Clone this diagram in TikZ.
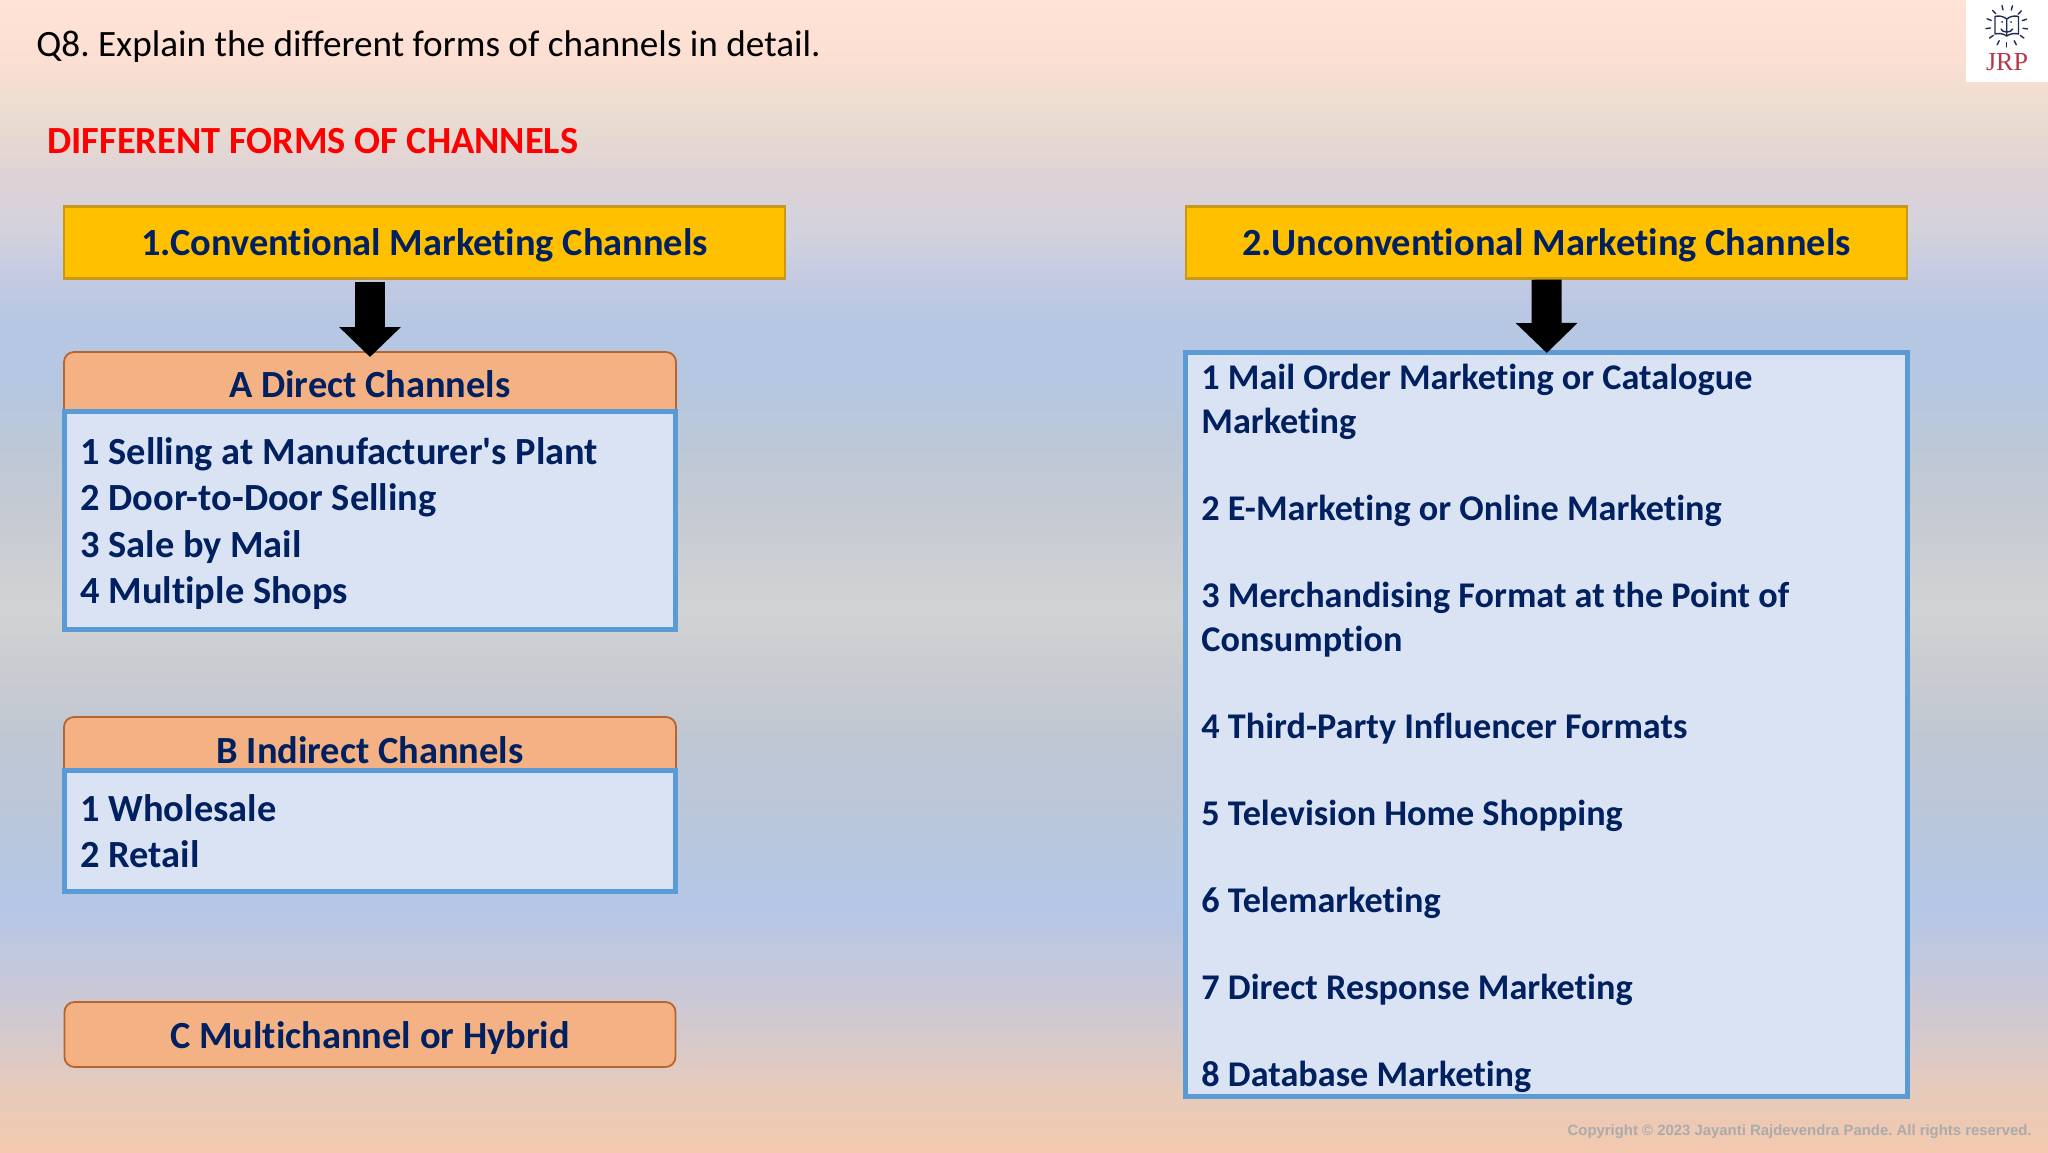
\documentclass[tikz,border=0pt]{standalone}
\usepackage{fontspec}
\setmainfont{Carlito}[Ligatures={TeXOff,NoCommon}]
\newfontfamily\arialfont{Liberation Sans}
\newfontfamily\timesfont{Liberation Serif}
\usetikzlibrary{arrows.meta,calc}
\frenchspacing
\definecolor{navy}{HTML}{002060}
\definecolor{goldfill}{HTML}{FFC000}
\definecolor{goldline}{HTML}{C8981A}
\definecolor{orangefill}{HTML}{F4B183}
\definecolor{orangeline}{HTML}{B5652F}
\definecolor{bluefill}{HTML}{DAE3F3}
\definecolor{blueline}{HTML}{5B9BD5}
\definecolor{logored}{HTML}{B23A48}
\definecolor{logonavy}{HTML}{1F2A5C}
\definecolor{b0}{HTML}{FFE3D7}\definecolor{b1}{HTML}{FBDFD2}\definecolor{b2}{HTML}{E9DCD0}
\definecolor{b3}{HTML}{DFD2D6}\definecolor{b4}{HTML}{D2D2DE}\definecolor{b5}{HTML}{C3CAE2}
\definecolor{b6}{HTML}{B6C7E4}\definecolor{b7}{HTML}{B5C7E2}\definecolor{b8}{HTML}{BCC8D8}
\definecolor{b9}{HTML}{C6CAD2}\definecolor{b10}{HTML}{D2D3D4}\definecolor{b11}{HTML}{CBCCD0}
\definecolor{b12}{HTML}{C0C7D3}\definecolor{b13}{HTML}{BBC7D9}\definecolor{b14}{HTML}{B4C7E6}
\definecolor{b15}{HTML}{C4C8DC}\definecolor{b16}{HTML}{D3C9CE}\definecolor{b17}{HTML}{E6CBBC}
\definecolor{b18}{HTML}{F3C8AE}
\pgfdeclareverticalshading{slidebg}{100bp}{
 color(0bp)=(b18);color(25bp)=(b18);color(27.82bp)=(b17);color(30.34bp)=(b16);color(32.9bp)=(b15);
 color(35.76bp)=(b14);color(39.93bp)=(b13);color(43.1bp)=(b12);color(46.31bp)=(b11);color(48.52bp)=(b10);
 color(52.69bp)=(b9);color(55.86bp)=(b8);color(58.42bp)=(b7);color(60.98bp)=(b6);color(62.89bp)=(b5);
 color(64.8bp)=(b4);color(67.36bp)=(b3);color(69.88bp)=(b2);color(72.44bp)=(b1);color(75bp)=(b0);color(100bp)=(b0)}
\tikzset{
 x=0.5pt,y=-0.5pt,
 hdrbox/.style={draw=goldline,fill=goldfill,line width=1.2pt,minimum width=360.6pt,minimum height=36pt,inner sep=0pt,text height=15pt,text depth=2.5pt,font=\fontsize{19.2}{22}\bfseries,text=navy},
 tabbox/.style={draw=orangeline,fill=orangefill,line width=0.9pt,rounded corners=5pt,minimum width=305.5pt,inner sep=0pt},
 listbox/.style={draw=blueline,fill=bluefill,line width=2.3pt,inner sep=0pt},
 tablabel/.style={font=\fontsize{19.2}{22}\bfseries,text=navy,anchor=base,inner sep=0pt},
 item/.style={font=\fontsize{19.2}{22}\bfseries,text=navy,anchor=base west,inner sep=0pt},
 ritem/.style={font=\fontsize{18.1}{22}\bfseries,text=navy,anchor=base west,inner sep=0pt},
 blockarrow/.style={draw=black,line width=15pt,-{Triangle[width=30pt,length=15pt]}},
 ray/.style={draw=logonavy,line width=0.7pt,line cap=round},
}
\begin{document}
\begin{tikzpicture}
\useasboundingbox (0,0) rectangle (2048,1152);
\shade[shading=slidebg] (0,0) rectangle (2048,1152);
% logo
\fill[white] (1966,0) rectangle (2048,82);
\foreach \a in {-103,-74,-132,-46,-160,-19,173,8,145,35,117,90,63}
  \draw[ray] ($(2006.7,26)+(\a:16.5)$) -- ($(2006.7,26)+(\a:21)$);
\draw[logonavy,line width=0.7pt,line join=round] (2006.7,19) .. controls (2003,16) and (1999,15.5) .. (1995,16.5) -- (1995,34) .. controls (1999,33) and (2003,33.5) .. (2006.7,36) .. controls (2010.5,33.5) and (2014.5,33) .. (2018.5,34) -- (2018.5,16.5) .. controls (2014.5,15.5) and (2010.5,16) .. (2006.7,19) -- (2006.7,36);
\draw[logonavy,line width=0.7pt,line cap=round] (2001,29) .. controls (2002,33) and (2011.5,33) .. (2012.5,29);
\fill[logonavy] (2002,22) circle (1) (2011,22) circle (1);
\node[inner sep=0pt,text=logored,font=\timesfont\fontsize{13}{15}\selectfont,anchor=base] (logo) at (2007,70.5) {JRP};
% titles
\node[inner sep=0pt,anchor=base west,font=\fontsize{18.6}{22}\selectfont,text=black] (title) at (36,56) {Q8. Explain the different forms of channels in detail.};
\node[inner sep=0pt,anchor=base west,font=\fontsize{19.2}{22}\bfseries,text=red] (sub) at (47,153) {DIFFERENT FORMS OF CHANNELS};
% left
\node[hdrbox] (h1) at (424.5,242.5) {1.Conventional Marketing Channels};
\draw[tabbox] (64,412) -- (64,352) -- (676,352) -- (676,412);
\coordinate (a0) at (370,352);
\node[tablabel] (a) at (370,397) {A Direct Channels};
\draw[tabbox] (64,770) -- (64,717) -- (676,717) -- (676,770);
\node[tablabel] (b) at (370,763) {B Indirect Channels};
\node[listbox,minimum width=305.7pt,minimum height=109.2pt] (la) at (370,520.5) {};
\node[listbox,minimum width=305.7pt,minimum height=60.7pt] (lb) at (370,831) {};
\node[tabbox,minimum height=32.5pt] (c) at (370,1034.5) {};
\node[tablabel] (ct) at (370,1048) {C Multichannel or Hybrid};
\node[item] (a1) at (80,464) {1 Selling at Manufacturer's Plant};
\node[item] (a2) at (80,510) {2 Door-to-Door Selling};
\node[item] (a3) at (80,557) {3 Sale by Mail};
\node[item] (a4) at (80,603) {4 Multiple Shops};
\node[item] (b1) at (80,821) {1 Wholesale};
\node[item] (b2) at (80,867) {2 Retail};
% right
\node[hdrbox] (h2) at (1546.5,242.5) {2.Unconventional Marketing Channels};
\node[listbox,minimum width=361pt,minimum height=372.2pt] (lr) at (1546.75,724.5) {};
\node[ritem] (r1) at (1201,389) {1 Mail Order Marketing or Catalogue};
\node[ritem] (r1b) at (1201,433) {Marketing};
\node[ritem] (r2) at (1201,520) {2 E-Marketing or Online Marketing};
\node[ritem] (r3) at (1201,607) {3 Merchandising Format at the Point of};
\node[ritem] (r3b) at (1201,651) {Consumption};
\node[ritem] (r4) at (1201,738) {4 Third-Party Influencer Formats};
\node[ritem] (r5) at (1201,825) {5 Television Home Shopping};
\node[ritem] (r6) at (1201,912) {6 Telemarketing};
\node[ritem] (r7) at (1201,999) {7 Direct Response Marketing};
\node[ritem] (r8) at (1201,1086) {8 Database Marketing};
% arrows
\draw[blockarrow,shorten <=1pt,shorten >=-2.5pt] (h1.south -| a0) -- (a0);
\draw[blockarrow,shorten >=-1.5pt] (h2.south) -- (lr.north);
% copyright
\node[inner sep=0pt,anchor=base east,font=\arialfont\bfseries\fontsize{7.45}{9}\selectfont,text=black!33] (copy) at (2032,1135) {Copyright © 2023 Jayanti Rajdevendra Pande. All rights reserved.};
\end{tikzpicture}
\end{document}
